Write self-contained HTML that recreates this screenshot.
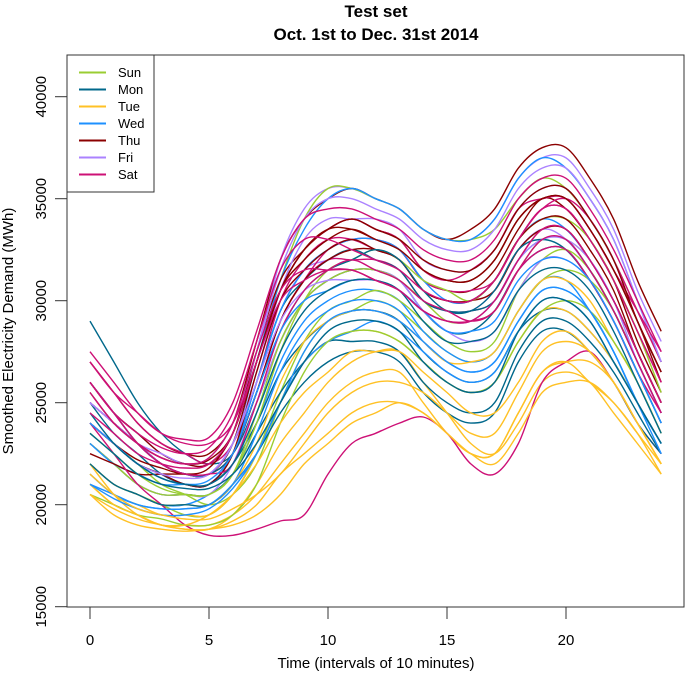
<!DOCTYPE html>
<html><head><meta charset="utf-8">
<style>
html,body{margin:0;padding:0;background:#fff;}
svg{display:block;font-family:"Liberation Sans",Arial,sans-serif;}
</style></head>
<body>
<svg id="chart" width="685" height="674" viewBox="0 0 685 674">
  <text x="376" y="17" text-anchor="middle" font-size="17" font-weight="bold">Test set</text>
  <text x="376" y="40" text-anchor="middle" font-size="17" font-weight="bold">Oct. 1st to Dec. 31st 2014</text>
  <g id="lines"></g>
  <rect x="67" y="55" width="617" height="552" fill="none" stroke="#333" stroke-width="1"/>
  <g id="xaxis"></g>
  <g id="yaxis"></g>
  <text x="376" y="668" text-anchor="middle" font-size="15">Time (intervals of 10 minutes)</text>
  <text transform="translate(13,331) rotate(-90)" text-anchor="middle" font-size="15">Smoothed Electricity Demand (MWh)</text>
  <g id="legend"></g>
</svg>
<script>
const days = ["Sun","Mon","Tue","Wed","Thu","Fri","Sat"];
const dayColors = ["#9ACD32","#00688B","#FFC125","#1E90FF","#8B0000","#AB82FF","#CD1076"];
const hours = [0,1,2,3,4,5,6,7,8,9,10,11,12,13,14,15,16,17,18,19,20,21,22,23,24];
const xTicks = [0,5,10,15,20];
const yTicks = [15000,20000,25000,30000,35000,40000];
// demand in thousands of MWh
const sunCurves = [
 [24,23,22,21,20.5,20,20.5,22,25,27.5,29,29.5,30,29.5,28.5,27.5,27,27.5,29.5,31,31.5,31,29.5,27,24.5],
 [25,24,23,22,21.5,21.5,23,27,31,34,35.5,35.5,35,34.5,33.5,33,33,33.5,35,36,35.5,34,32,29.5,27],
 [22,21,20.5,20,19.5,19.5,20.5,22.5,25.5,28,29.5,30,30.5,30,29,28,27.5,28,30.5,32,32.5,31.5,29.5,27,24.5],
 [23,22,21,20.5,20.5,20.5,21.5,24.5,28,30,31,31.5,31.5,31,30,29,29,29.5,31.5,33,33,32,30,27.5,25],
 [23.5,22.5,21.5,20.8,20.5,20.5,21.5,24,27.5,30,31.5,32,32.5,32,31,30.5,30,31,33,34,34,33,31,28.5,25.5],
 [20.5,20,19.5,19.3,19,19,19.5,21,24,26.5,28,28.5,28.5,28,27,26,25.5,26,28,29.5,30,29.5,28,26,23.5]
];
const monCurves = [
 [29,27,25,23.5,22.5,22,22.5,25,28,30,31,31.5,31.5,31,29.5,28.5,28.5,29.5,31.5,32.5,32.5,31,29,26.5,24],
 [25,23.5,22.5,21.5,21,21,22,24,26.5,28,29,29.5,29.5,29,27.5,26.5,26,26.5,28.5,29.5,29.5,28.5,27,25,23],
 [23,22,21,20.5,20.5,20.5,21.5,23.5,25.5,27,28,28,28,27.5,26,25,24.5,25,27.5,29,29,28,26.5,24.5,22.5],
 [24,23,22,21.5,21,21,22.5,26,29.5,31,32,32.5,32,31.5,30,29.5,29.5,30,32,33,33,31.5,29.5,27,24.5],
 [22,21,20.5,20,20,20,21,22.5,24.5,26,27,27.5,27.5,27,25.5,24.5,24,24.5,27,28.5,28.5,27.5,26,24,22.5],
 [26,24.5,23,22,21.5,21.5,22.5,25.5,28.5,30.5,31.5,32,32.5,32,30.5,29.5,29.5,30.5,32.5,33,32.5,31,29,26.5,24],
 [23.5,22.5,21.5,21,20.8,20.8,21.5,23,25,27,28.5,29,29,28.5,27,26,25.5,26,28.5,30,30,29,27,25,23],
 [24.5,23,22,21.3,21,21,22,24.5,27.5,29.5,30.5,31,31,30.5,29,28,28,28.5,30.5,31.5,31.5,30.5,28.5,26,23.5]
];
const tueCurves = [
 [21,20,19.5,19,19,19,19.5,20.5,22,23.5,25,26,26.5,26.5,25,23.5,22.5,22.5,24.5,26.5,27,26,25,23.5,22],
 [22,20.5,19.5,19,18.8,18.8,19.5,21,23,24.5,26,27,27.5,27.5,26,24.5,23,22.5,24,26,26.5,26,24.5,23,21.5],
 [21.5,20.5,20,19.5,19.5,19.5,20.5,22.5,25,27,28,28.5,28.5,28,27,26,25.5,26,28,29.5,29.5,28.5,27,25,23],
 [22,21,20.5,20,20,20,21,23,26,28,29,29.5,29.5,29,28,27,27,27.5,29.5,31,31,30,28,26,23.5],
 [20.5,19.5,19,18.8,18.7,18.8,19,19.5,20.5,22,23,24,24.5,25,24.5,23.5,22.5,22.5,24.5,26.5,27,27,26,24,22],
 [21,20,19.5,19,19,19.5,20.5,22,24,25.5,26.5,27.5,27.5,27.5,26.5,25.5,24.5,24.5,26,28,28.5,27.5,26,24,22],
 [20.5,19.8,19.3,19,18.8,18.8,19.2,20,21.5,22.5,23.5,24.5,25,25,24.5,23.5,22.5,22,23.5,25.5,26,26,25,23.5,21.5],
 [21.5,20.5,19.8,19.5,19.3,19.3,19.8,20.5,21.5,23,24.5,25.5,26,26,25.5,24.5,23.5,23.5,25.5,27.5,28,27.5,26,24,22]
];
const wedCurves = [
 [22,21,20.5,20,20,20.5,21.5,24,27,29,30,30.5,30.5,30,28.5,27.5,27,27.5,29.5,31,31,29.5,27.5,25,23],
 [25,24,23,22,21.5,21.5,23,27,31,33.5,35,35.5,35,34.5,33.5,33,33,34,36,37,36.5,35,33,30,27],
 [21.5,20.5,20,19.8,19.8,20,21,23.5,26.5,28.5,29.5,30,30,29.5,28,27,26.5,27,29,30.5,30.5,29.5,27.5,25,23],
 [23,22,21.5,21,21,21,22.5,26,29.5,31.5,32.5,33,33,32.5,31,30,30,31,33,34,33.5,32,30,27.5,25],
 [21,20.5,20,19.8,19.8,20,21,22.5,25,27,28,28.5,29,28.5,27.5,26.5,26,26.5,28.5,30,30,29,27,25,23],
 [21,20.3,19.8,19.5,19.5,19.8,20.8,22.5,25,27.5,29,29.5,29.5,29,28,27,26.5,27,29,30.5,30.5,29.5,27.5,25,22.5],
 [24,23,22,21.3,21,21.2,22.5,25.5,28.5,30,30.5,31,31,30.5,29.5,28.5,28.5,29,31,32,32,31,29,26.5,24]
];
const thuCurves = [
 [27,25.5,24,23,22.5,22.5,24,28,32,34,35,35.5,35,34.5,33.5,33,33.5,34.5,36.5,37.5,37.5,36,34,31,28.5],
 [25,24,23,22,21.5,21.5,23,27,30.5,32,33,33.5,33,32.5,31,30.5,30.5,31.5,33.5,35,34.5,33,31,28,25.5],
 [26,24.5,23.5,22.5,22,22,23.5,27.5,31,32.5,33.5,34,33.5,33,31.5,31,31,32,34,35,35,33.5,31.5,29,26],
 [22.5,22,21.5,21.5,21.5,21.5,22.5,25.5,29,31,32,32.5,32.5,32,30.5,30,30,30.5,32.5,33.5,33.5,32,30,27.5,25],
 [24,23,22,21.5,21,21,22.5,26.5,30,31.5,32.5,33,32.5,32,30.5,30,30,31,33,34,34,32.5,30.5,27.5,25],
 [24,23,22.2,21.8,21.5,21.8,23.5,27,30.5,32.5,33.5,34,33.5,33,32,31.5,31.5,32.5,34.5,35.5,35.5,34,32,29,26.5],
 [25.5,24,23,22.3,22,22.2,23.5,27,30.5,32.5,33.5,33.5,33,32.5,31.5,31,31,32,34,35,35,33.5,31.5,29,26.5]
];
const friCurves = [
 [26,24.5,23.5,22.5,22,22,23.5,27.5,32,34.5,35.5,35.5,35,34.5,33.5,33,33,34,36,37,37,35.5,33.5,30.5,28],
 [24,23,22,21.5,21,21,22.5,26,29.5,31.5,32,32.5,32,31.5,30,29.5,29.5,30.5,32.5,33.5,33,31.5,29.5,27,24.5],
 [23,22,21,20.5,20.5,20.5,22,25,28,30,31,31.5,31.5,31,29.5,28.5,28,28.5,30.5,32,32,31,29,26.5,24],
 [25,24,23,22,21.5,21.5,23,26.5,30.5,33,34,34,34,33.5,32,31.5,31.5,32.5,34.5,35.5,35.5,34,32,29,26.5],
 [25,24,23,22.5,22,22.3,24,27.5,31.5,34,35,35,34.5,34,33,32.5,32.5,33.5,35.5,36.5,36.5,35,33,30,27],
 [24,23,22,21.5,21.3,21.5,23,26,29,30.5,31,31,31,30.5,29.5,29,29,30,32,33,33,32,30,27,24.5]
];
const satCurves = [
 [27,25.5,24,23,22.5,22,23,26,30,32,33,33,32.5,32,30.5,30,30,31,33,34.5,34.5,33,31,28.5,26],
 [26,24.5,23,22,21.5,21.5,22.5,25.5,29,31,32,32,32,31.5,30,29.5,29.5,30,32,33.5,33.5,32,30,27.5,25],
 [25,24,23,22,21.5,21.5,22.5,25.5,29,31,32.5,33,33,32.5,31,30.5,30.5,31,33,34.5,35,34,32,29.5,27],
 [24,22.5,21,20,19,18.5,18.5,18.8,19.2,19.5,21.5,23,23.5,24,24.3,23.5,22,21.5,23,26,27,27.5,26,24,22.5],
 [27,25.5,24.5,23.5,23,23,24,27,30.5,32.5,33.5,34,33.5,33,31.5,31,31.5,32.5,34.5,35,35,33.5,31.5,29.5,27.5],
 [26,24.5,23,22,21.5,21.5,22,25,28.5,30.5,31.5,32,31.5,31,30,29.5,29,29.5,31.5,32.5,32.5,31,29,26.5,24.5],
 [26,24.5,23.5,22.8,22.5,22.8,24.5,28,31.5,33,33,32.5,32,31.5,30.5,30,30,31,33,34.5,34.5,33,31,28.5,26],
 [25.5,24,23,22.3,22,22.3,24,27.5,30.5,31.5,31.5,31.5,31,30.5,29.5,29,29,30,32,33.5,33.5,32,30,27.5,25],
 [24.5,23.5,22.5,22,21.8,22,23.5,27,30,31,31.5,31.5,31,30.5,29.5,29,29,29.5,31.5,33,33,31.5,29.5,27,24.5],
 [27.5,26,24.5,23.5,23.2,23.3,25,28.5,32,34,34.5,34.5,34,33.5,32.5,32,32,33,35,36,36,34.5,32.5,30,27.5]
];
const allCurves = [sunCurves,monCurves,tueCurves,wedCurves,thuCurves,friCurves,satCurves];

const NS = "http://www.w3.org/2000/svg";
const xScale = v => 90 + v * 23.8;
const yScale = v => 606.7 - (v - 15000) * 0.0204;

function smoothPath(pts) {
  let d = "M" + pts[0][0].toFixed(1) + "," + pts[0][1].toFixed(1);
  for (let i = 0; i < pts.length - 1; i++) {
    const p0 = pts[Math.max(0, i - 1)], p1 = pts[i], p2 = pts[i + 1], p3 = pts[Math.min(pts.length - 1, i + 2)];
    const c1x = p1[0] + (p2[0] - p0[0]) / 6, c1y = p1[1] + (p2[1] - p0[1]) / 6;
    const c2x = p2[0] - (p3[0] - p1[0]) / 6, c2y = p2[1] - (p3[1] - p1[1]) / 6;
    d += "C" + c1x.toFixed(1) + "," + c1y.toFixed(1) + " " + c2x.toFixed(1) + "," + c2y.toFixed(1) + " " + p2[0].toFixed(1) + "," + p2[1].toFixed(1);
  }
  return d;
}

const linesG = document.getElementById("lines");
const maxN = Math.max(...allCurves.map(c => c.length));
for (let k = 0; k < maxN; k++) {
  for (let di = 0; di < 7; di++) {
    const curve = allCurves[di][k];
    if (!curve) continue;
    const pts = curve.map((v, i) => [xScale(hours[i]), yScale(v * 1000)]);
    const p = document.createElementNS(NS, "path");
    p.setAttribute("d", smoothPath(pts));
    p.setAttribute("fill", "none");
    p.setAttribute("stroke", dayColors[di]);
    p.setAttribute("stroke-width", "1.4");
    
    
    linesG.appendChild(p);
  }
}

const xg = document.getElementById("xaxis");
xTicks.forEach(t => {
  const l = document.createElementNS(NS, "line");
  l.setAttribute("x1", xScale(t)); l.setAttribute("x2", xScale(t));
  l.setAttribute("y1", 607); l.setAttribute("y2", 619);
  l.setAttribute("stroke", "#333");
  
  
  xg.appendChild(l);
  const tx = document.createElementNS(NS, "text");
  tx.setAttribute("x", xScale(t)); tx.setAttribute("y", 645);
  tx.setAttribute("text-anchor", "middle"); tx.setAttribute("font-size", "15");
  tx.textContent = t;
  
  
  xg.appendChild(tx);
});
const yg = document.getElementById("yaxis");
yTicks.forEach(t => {
  const y = yScale(t);
  const l = document.createElementNS(NS, "line");
  l.setAttribute("x1", 55); l.setAttribute("x2", 67);
  l.setAttribute("y1", y); l.setAttribute("y2", y);
  l.setAttribute("stroke", "#333");
  
  
  yg.appendChild(l);
  const tx = document.createElementNS(NS, "text");
  tx.setAttribute("transform", "translate(46," + y + ") rotate(-90)");
  tx.setAttribute("text-anchor", "middle"); tx.setAttribute("font-size", "15");
  tx.textContent = t;
  
  
  yg.appendChild(tx);
});

const lg = document.getElementById("legend");
const box = document.createElementNS(NS, "rect");
box.setAttribute("x", 67); box.setAttribute("y", 55);
box.setAttribute("width", 87); box.setAttribute("height", 137);
box.setAttribute("fill", "#fff"); box.setAttribute("stroke", "#333");


lg.appendChild(box);
days.forEach((d, i) => {
  const y = 72.5 + i * 17;
  const l = document.createElementNS(NS, "line");
  l.setAttribute("x1", 79); l.setAttribute("x2", 106);
  l.setAttribute("y1", y); l.setAttribute("y2", y);
  l.setAttribute("stroke", dayColors[i]); l.setAttribute("stroke-width", "2");
  
  
  lg.appendChild(l);
  const tx = document.createElementNS(NS, "text");
  tx.setAttribute("x", 118); tx.setAttribute("y", y + 4.5);
  tx.setAttribute("font-size", "13");
  tx.textContent = d;
  
  
  lg.appendChild(tx);
});
</script>
</body></html>
